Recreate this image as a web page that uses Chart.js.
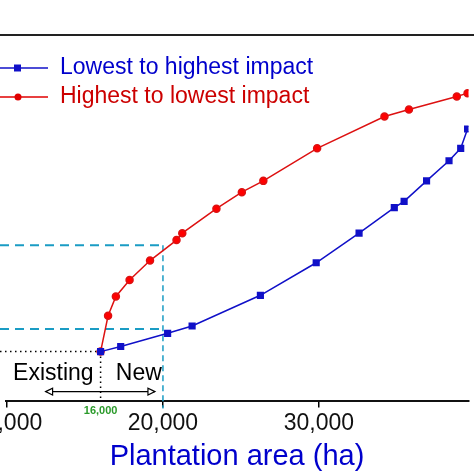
<!DOCTYPE html>
<html><head><meta charset="utf-8">
<script src="https://cdn.jsdelivr.net/npm/chart.js@4"></script>
<style>body{margin:0;background:#fff}#wrap{width:474px;height:474px}</style>
</head><body><div id="wrap"><canvas id="c"></canvas></div>
<script>
// Datos (eje y en unidades relativas)
const xTicks = [10000, 20000, 30000];
const azulX = [16000, 17290, 20300, 21870, 26250, 29830, 32580, 34840, 35470, 36910, 38350, 39100, 39540];
const azulY = [13.4, 14.8, 18.4, 20.4, 28.8, 37.7, 45.8, 52.8, 54.5, 60.1, 65.6, 69.0, 74.3];
const rojoX = [16000, 16480, 16980, 17860, 19170, 20870, 21240, 23430, 25060, 26440, 29890, 34210, 35780, 38850, 39540];
const rojoY = [13.4, 23.2, 28.5, 33.0, 38.3, 43.9, 45.8, 52.5, 57.0, 60.1, 69.0, 77.7, 79.6, 83.2, 84.1];
const lineasY = [42.5, 19.6];
const existente = 16000, nuevo = 20000;

const toPts = (xs, ys) => xs.map((x, i) => ({ x, y: ys[i] }));

const extras = {
  id: 'extras',
  beforeDatasetsDraw(chart) {
    const { ctx, chartArea: a, scales: { x, y } } = chart;
    ctx.save();
    // borde superior
    ctx.strokeStyle = '#222'; ctx.lineWidth = 2;
    ctx.beginPath(); ctx.moveTo(0, a.top); ctx.lineTo(474, a.top); ctx.stroke();
    // líneas discontinuas cian
    ctx.strokeStyle = '#1a9cc4'; ctx.lineWidth = 2; ctx.setLineDash([9, 6]);
    lineasY.forEach(v => {
      ctx.beginPath(); ctx.moveTo(0, y.getPixelForValue(v)); ctx.lineTo(x.getPixelForValue(nuevo), y.getPixelForValue(v)); ctx.stroke();
    });
    ctx.lineWidth = 1.5; ctx.setLineDash([6, 4]);
    ctx.beginPath(); ctx.moveTo(x.getPixelForValue(nuevo), y.getPixelForValue(lineasY[0])); ctx.lineTo(x.getPixelForValue(nuevo), a.bottom + 8); ctx.stroke();
    // punteado negro
    ctx.strokeStyle = '#000'; ctx.lineWidth = 1.5; ctx.setLineDash([1.5, 3.5]);
    const y0 = y.getPixelForValue(azulY[0]), x0 = x.getPixelForValue(existente);
    ctx.beginPath(); ctx.moveTo(0, y0); ctx.lineTo(x0, y0); ctx.moveTo(x0, y0); ctx.lineTo(x0, a.bottom); ctx.stroke();
    ctx.setLineDash([]);
    // textos
    ctx.fillStyle = '#000'; ctx.font = '23px "Liberation Sans", Arial'; ctx.textBaseline = 'middle';
    ctx.textAlign = 'right'; ctx.fillText('Existing', x0 - 7, a.bottom - 27);
    ctx.textAlign = 'center'; ctx.fillText('New', (x0 + x.getPixelForValue(nuevo)) / 2 + 7, a.bottom - 27);
    // flecha doble
    const ay = a.bottom - 9, l = x0 - 55, r = x.getPixelForValue(nuevo) - 8;
    ctx.lineWidth = 1.2; ctx.fillStyle = '#fff';
    ctx.beginPath(); ctx.moveTo(l, ay); ctx.lineTo(r, ay); ctx.stroke();
    ctx.beginPath(); ctx.moveTo(l, ay); ctx.lineTo(l + 7, ay - 3.5); ctx.lineTo(l + 7, ay + 3.5); ctx.closePath(); ctx.fill(); ctx.stroke();
    ctx.beginPath(); ctx.moveTo(r, ay); ctx.lineTo(r - 7, ay - 3.5); ctx.lineTo(r - 7, ay + 3.5); ctx.closePath(); ctx.fill(); ctx.stroke();
    ctx.fillStyle = '#2a9a2a'; ctx.font = 'bold 11px "Liberation Sans", Arial';
    ctx.fillText('16,000', x0, a.bottom + 10);
    // leyenda
    const ley = [['Lowest to highest impact', '#0000cc', '#1010c8', 'rect', 68], ['Highest to lowest impact', '#cc0000', '#e00000', 'circle', 97]];
    ley.forEach(([t, tc, lc, ps, py]) => {
      ctx.strokeStyle = lc; ctx.fillStyle = lc; ctx.lineWidth = 1.5;
      ctx.beginPath(); ctx.moveTo(0, py); ctx.lineTo(48, py); ctx.stroke();
      ctx.beginPath();
      if (ps === 'rect') ctx.rect(14, py - 3.5, 7, 7); else ctx.arc(18, py, 3.5, 0, Math.PI * 2);
      ctx.fill();
      ctx.fillStyle = tc; ctx.font = '23px "Liberation Sans", Arial'; ctx.textAlign = 'left';
      ctx.fillText(t, 60, py);
    });
    ctx.restore();
  }
};

new Chart(document.getElementById('c'), {
  type: 'scatter',
  data: {
    datasets: [
      { data: toPts(azulX, azulY), showLine: true, borderColor: '#1010c8', backgroundColor: '#1010c8', borderWidth: 1.5, pointStyle: 'rect', pointRadius: 4 },
      { data: toPts(rojoX, rojoY), showLine: true, borderColor: '#dd1111', backgroundColor: '#ff0000', borderWidth: 1.5, pointStyle: 'circle', pointRadius: 3.5 }
    ]
  },
  options: {
    responsive: true, maintainAspectRatio: false, animation: false,
    layout: { padding: { top: 35, left: -6, right: -6, bottom: 0 } },
    plugins: { legend: { display: false }, tooltip: { enabled: false } },
    scales: {
      x: {
        type: 'linear', min: 9900, max: 39600,
        afterBuildTicks: s => { s.ticks = xTicks.map(v => ({ value: v })); },
        afterFit: s => { s.paddingLeft = 0; s.paddingRight = 0; },
        ticks: { color: '#111', font: { size: 23, family: '"Liberation Sans", Arial' }, padding: 2, maxRotation: 0,
          callback: v => v.toLocaleString('en-US') },
        grid: { drawOnChartArea: false, drawTicks: true, tickLength: 7, color: '#000', lineWidth: 1.5 },
        border: { color: '#111', width: 2 },
        title: { display: true, text: 'Plantation area (ha)', color: '#0000cc', font: { size: 29, family: '"Liberation Sans", Arial' }, padding: { top: 0, bottom: 0 } }
      },
      y: { display: false, min: 0, max: 100 }
    }
  },
  plugins: [extras]
});
</script></body></html>
